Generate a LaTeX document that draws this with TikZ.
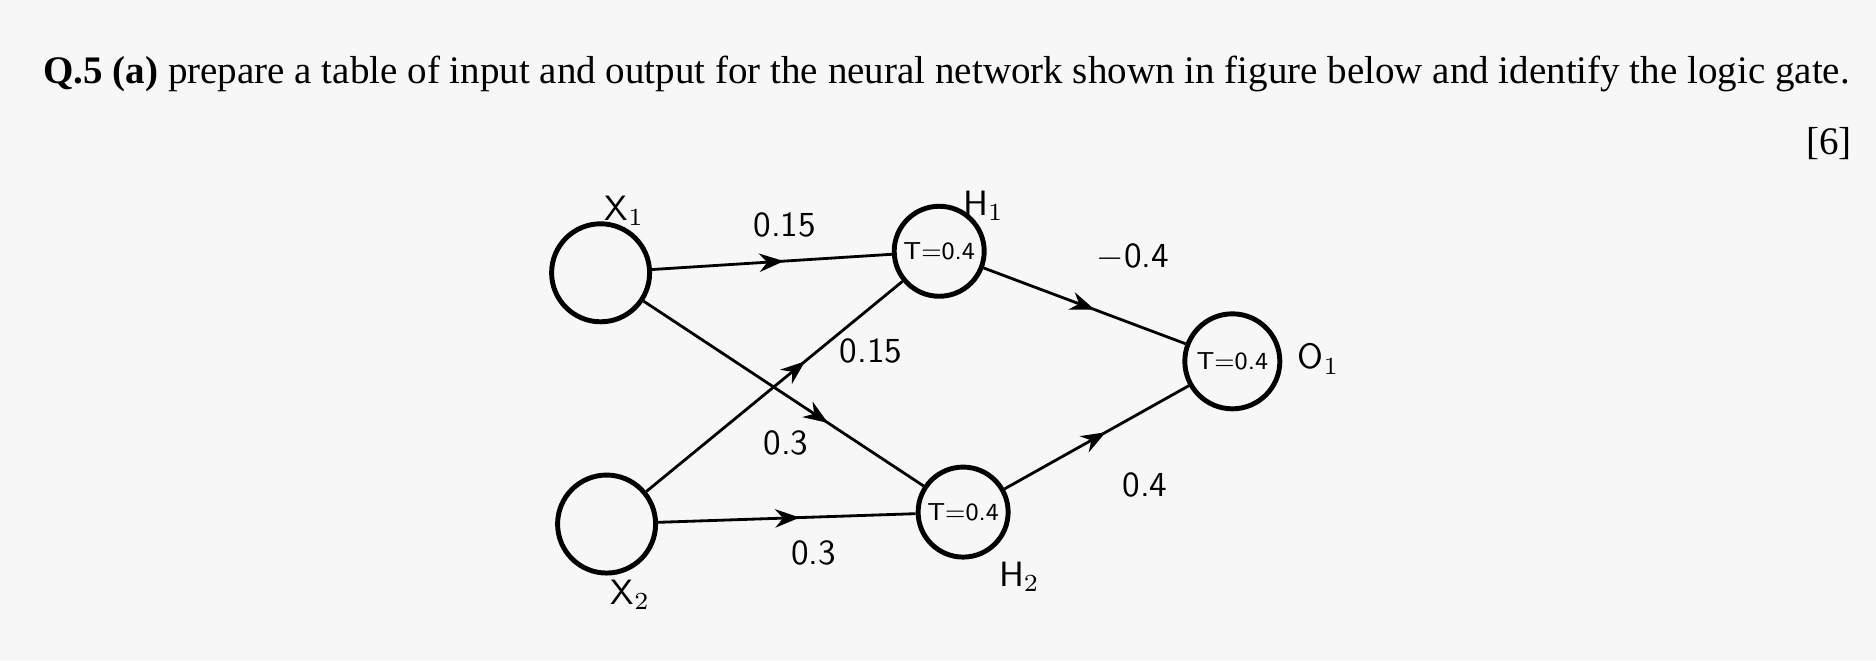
\documentclass[tikz,border=0pt]{standalone}
\usepackage{fontspec}
\setmainfont{Liberation Serif}
\usetikzlibrary{decorations.markings,arrows.meta}
\begin{document}
\begin{tikzpicture}[x=0.01196cm,y=-0.01196cm,
  neuron/.style={circle,draw,line width=1.4pt,minimum size=0.9cm,inner sep=0pt,font=\sffamily\fontsize{7}{8}\selectfont},
  conn/.style={line width=0.8pt,decoration={markings,mark=at position #1 with {\arrow{Stealth[length=7pt]}}},postaction={decorate}},
  conn/.default=0.55,
  lbl/.style={font=\sffamily\fontsize{10}{12}\selectfont}]
\useasboundingbox (0,0) rectangle (1568,552);
\fill[white!94!gray] (0,0) rectangle (1568,552);
\node[anchor=west,font=\fontsize{11.1}{13}\selectfont] (title) at (26,62) {\textbf{Q.5 (a)} prepare a table of input and output for the neural network shown in figure below and identify the logic gate.};
\node[anchor=east,font=\fontsize{11.1}{13}\selectfont] (marks) at (1558,120) {[6]};
\node[neuron,minimum size=0.98cm] (x1) at (502,228) {};
\node[neuron,minimum size=0.98cm] (x2) at (507,438) {};
\node[neuron] (h1) at (785,210) {T=0.4};
\node[neuron] (h2) at (805,428) {T=0.4};
\node[neuron,minimum size=0.95cm] (o1) at (1030,302) {T=0.4};
\draw[conn] (x1) -- (h1);
\draw[conn=0.66] (x1) -- (h2);
\draw[conn=0.62] (x2) -- (h1);
\draw[conn] (x2) -- (h2);
\draw[conn] (h1) -- (o1);
\draw[conn] (h2) -- (o1);
\node[lbl] (lx1) at (522,176) {X$_1$};
\node[lbl] (lx2) at (527,497) {X$_2$};
\node[lbl] (lh1) at (822,172) {H$_1$};
\node[lbl] (lh2) at (852,482) {H$_2$};
\node[lbl] (lo1) at (1102,300) {O$_1$};
\node[lbl] (w1) at (656,188) {0.15};
\node[lbl] (w2) at (728,293) {0.15};
\node[lbl] (w3) at (657,370) {0.3};
\node[lbl] (w4) at (680,462) {0.3};
\node[lbl] (w5) at (947,215) {$-$0.4};
\node[lbl] (w6) at (957,405) {0.4};
\end{tikzpicture}
\end{document}
